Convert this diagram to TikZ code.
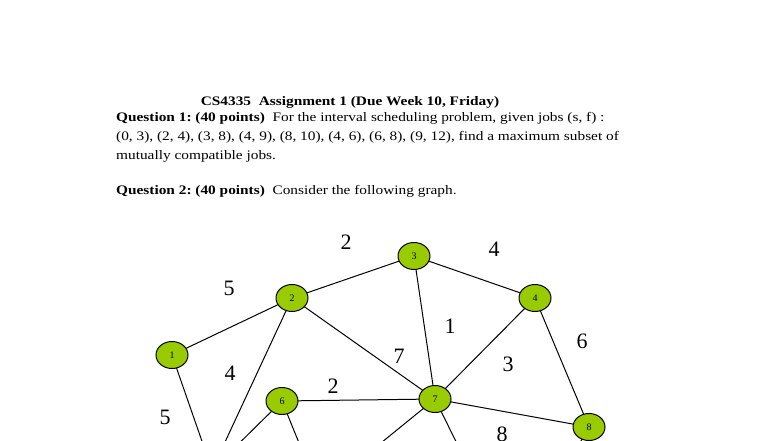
\documentclass[tikz,border=0pt]{standalone}
\usepackage{fontspec}
\setmainfont{Liberation Serif}
\usetikzlibrary{shapes.geometric}
\definecolor{nodegreen}{RGB}{153,204,0}
\newcommand{\wtx}[1]{\scalebox{1.18}[1]{#1}}
\begin{document}
\begin{tikzpicture}[x=1pt,y=-1pt,
 vert/.style={ellipse,draw=black,line width=1pt,fill=nodegreen,minimum width=32pt,minimum height=27pt,inner sep=0pt,font=\fontsize{10}{10}\selectfont},
 wt/.style={font=\fontsize{22}{22}\selectfont},
 txt/.style={anchor=base west,inner sep=0pt,font=\fontsize{13}{13}\selectfont},
 edge/.style={line width=1pt}]
\useasboundingbox (0,0) rectangle (784,441);
\clip (0,0) rectangle (784,441);
\node[anchor=base,inner sep=0pt,font=\fontsize{13}{13}\selectfont\bfseries] (t) at (350,106) {\wtx{CS4335\ \ Assignment 1 (Due Week 10, Friday)}};
\node[txt] (l1) at (116,122) {\wtx{\textbf{Question 1:\ (40 points)}\ \ For the interval scheduling problem, given jobs (s, f) :}};
\node[txt] (l2) at (116,141) {\wtx{(0, 3), (2, 4), (3, 8), (4, 9), (8, 10), (4, 6), (6, 8), (9, 12), find a maximum subset of}};
\node[txt] (l3) at (116,159) {\wtx{mutually compatible jobs.}};
\node[txt] (l4) at (116,194) {\wtx{\textbf{Question 2:\ (40 points)}\ \ Consider the following graph.}};
\coordinate (a) at (310,470);
\coordinate (b) at (360,460);
\coordinate (c) at (470,470);
\coordinate (d) at (570,460);
\coordinate (p1) at (172,355);
\coordinate (p2) at (292,298);
\coordinate (p3) at (414,256);
\coordinate (p4) at (535,298);
\coordinate (p6) at (282,401);
\coordinate (p7) at (435,399);
\coordinate (p8) at (589,427);
\coordinate (p5) at (212,470);
\draw[edge] (p1)--(p2) (p2)--(p3) (p3)--(p4) (p2)--(p7) (p3)--(p7) (p4)--(p7) (p4)--(p8)
 (p6)--(p7) (p7)--(p8) (p1)--(p5) (p2)--(p5) (p6)--(p5) (p6)--(a) (p7)--(b) (p7)--(c) (p8)--(d);
\node[vert] (n1) at (p1) {1};
\node[vert] (n2) at (p2) {2};
\node[vert] (n3) at (p3) {3};
\node[vert] (n4) at (p4) {4};
\node[vert] (n6) at (p6) {6};
\node[vert] (n7) at (p7) {7};
\node[vert] (n8) at (p8) {8};
\node[vert] (n5) at (p5) {};
\node[wt] (w1) at (346,242) {2};
\node[wt] (w2) at (494,249) {4};
\node[wt] (w3) at (229,288) {5};
\node[wt] (w4) at (450,326) {1};
\node[wt] (w5) at (399,356) {7};
\node[wt] (w6) at (508,364) {3};
\node[wt] (w7) at (582,341) {6};
\node[wt] (w8) at (230,373) {4};
\node[wt] (w9) at (333,386) {2};
\node[wt] (w10) at (165,417) {5};
\node[wt] (w11) at (502,434) {8};
\end{tikzpicture}
\end{document}
